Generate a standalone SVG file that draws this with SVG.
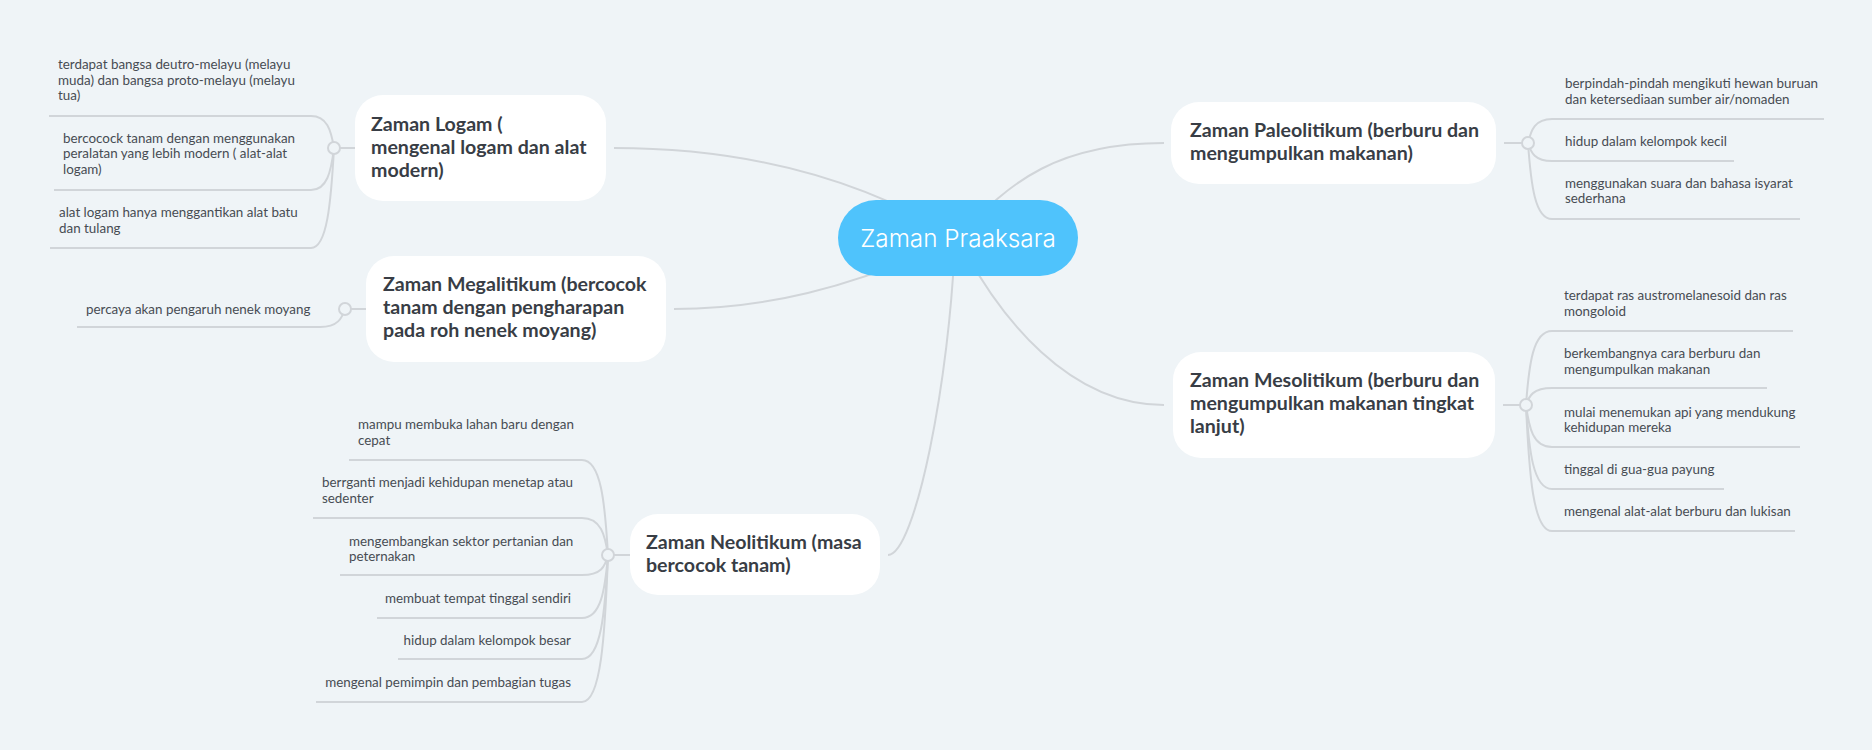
<svg xmlns="http://www.w3.org/2000/svg" width="1872" height="750" viewBox="0 0 1872 750">
<style>
.bg{fill:#eff4f7}
.ln{fill:none;stroke:#d1d5d9;stroke-width:2}
.jn{fill:#eff4f7;stroke:#d1d5d9;stroke-width:2}
.nd{fill:#ffffff}
.tt{font-family:Lato,"Noto Sans",sans-serif;font-weight:700;font-size:19.6px;fill:#383d45}
.ct{font-family:Lato,"Noto Sans",sans-serif;font-size:13.4px;fill:#474c53}
.root{font-family:Inter,"Noto Sans",sans-serif;font-weight:300;font-size:24.3px;fill:#ffffff}
</style>
<rect class="bg" x="0" y="0" width="1872" height="750"/>

<g id="connectors">
  <!-- main links -->
  <path class="ln" d="M614 148 C770 148 880 190 958 238"/>
  <path class="ln" d="M674 309 C760 309 850 290 958 238"/>
  <path class="ln" d="M888 555 C915 555 950 380 955 238"/>
  <path class="ln" d="M1164 143 C1060 143 1010 180 958 238"/>
  <path class="ln" d="M1164 405 C1070 405 1000 320 958 238"/>
  <!-- node-to-junction stubs -->
  <path class="ln" d="M340 148 H355"/>
  <path class="ln" d="M351 309 H366"/>
  <path class="ln" d="M614 555 H630"/>
  <path class="ln" d="M1504 143 H1522"/>
  <path class="ln" d="M1503 405 H1520"/>
  <!-- Logam children -->
  <path class="ln" d="M334 148 C331 130 327 116 311 116 H49"/>
  <path class="ln" d="M334 148 C331 172 327 190 311 190 H54"/>
  <path class="ln" d="M334 148 C331 203 327 248 311 248 H50"/>
  <!-- Megalitikum child -->
  <path class="ln" d="M345 309 C342 318 338 327 320 327 H77"/>
  <!-- Neolitikum children -->
  <path class="ln" d="M608 555 C605 503 601 460 582 460 H349"/>
  <path class="ln" d="M608 555 C605 535 601 518 582 518 H313"/>
  <path class="ln" d="M608 555 C605 567 601 575 582 575 H340"/>
  <path class="ln" d="M608 555 C605 590 601 618 582 618 H377"/>
  <path class="ln" d="M608 555 C605 613 601 659 582 659 H398"/>
  <path class="ln" d="M608 555 C605 636 601 702 582 702 H316"/>
  <!-- Paleolitikum children -->
  <path class="ln" d="M1528 143 C1531 130 1535 119 1552 119 H1824"/>
  <path class="ln" d="M1528 143 C1531 153 1535 161 1552 161 H1734"/>
  <path class="ln" d="M1528 143 C1531 185 1535 219 1552 219 H1800"/>
  <!-- Mesolitikum children -->
  <path class="ln" d="M1526 405 C1529 364 1533 331 1552 331 H1793"/>
  <path class="ln" d="M1526 405 C1529 396 1533 388 1552 388 H1767"/>
  <path class="ln" d="M1526 405 C1529 428 1533 447 1552 447 H1800"/>
  <path class="ln" d="M1526 405 C1529 450 1533 489 1552 489 H1724"/>
  <path class="ln" d="M1526 405 C1529 473 1533 531 1552 531 H1795"/>
  <!-- junction circles -->
  <circle class="jn" cx="334" cy="148" r="6"/>
  <circle class="jn" cx="345" cy="309" r="6"/>
  <circle class="jn" cx="608" cy="555" r="6"/>
  <circle class="jn" cx="1528" cy="143" r="6"/>
  <circle class="jn" cx="1526" cy="405" r="6"/>
</g>

<g id="root">
  <rect x="838" y="200" width="240" height="76" rx="38" fill="#4fc3fc"/>
  <text class="root" x="958" y="247" text-anchor="middle">Zaman Praaksara</text>
</g>

<g id="logam">
  <rect class="nd" x="355" y="95" width="251" height="106" rx="28"/>
  <text class="tt" x="371" y="131">Zaman Logam (</text>
  <text class="tt" x="371" y="154">mengenal logam dan alat</text>
  <text class="tt" x="371" y="177">modern)</text>
</g>
<g id="logam-1">
  <text class="ct" x="58" y="69">terdapat bangsa deutro-melayu (melayu</text>
  <text class="ct" x="58" y="85">muda) dan bangsa proto-melayu (melayu</text>
  <text class="ct" x="58" y="100">tua)</text>
</g>
<g id="logam-2">
  <text class="ct" x="63" y="143">bercocock tanam dengan menggunakan</text>
  <text class="ct" x="63" y="158">peralatan yang lebih modern ( alat-alat</text>
  <text class="ct" x="63" y="174">logam)</text>
</g>
<g id="logam-3">
  <text class="ct" x="59" y="217">alat logam hanya menggantikan alat batu</text>
  <text class="ct" x="59" y="233">dan tulang</text>
</g>

<g id="megalitikum">
  <rect class="nd" x="366" y="256" width="300" height="106" rx="28"/>
  <text class="tt" x="383" y="291">Zaman Megalitikum (bercocok</text>
  <text class="tt" x="383" y="314">tanam dengan pengharapan</text>
  <text class="tt" x="383" y="337">pada roh nenek moyang)</text>
</g>
<g id="megalitikum-1">
  <text class="ct" x="86" y="314">percaya akan pengaruh nenek moyang</text>
</g>

<g id="neolitikum">
  <rect class="nd" x="630" y="514" width="250" height="81" rx="28"/>
  <text class="tt" x="646" y="549">Zaman Neolitikum (masa</text>
  <text class="tt" x="646" y="572">bercocok tanam)</text>
</g>
<g id="neolitikum-1">
  <text class="ct" x="358" y="429">mampu membuka lahan baru dengan</text>
  <text class="ct" x="358" y="445">cepat</text>
</g>
<g id="neolitikum-2">
  <text class="ct" x="322" y="487">berrganti menjadi kehidupan menetap atau</text>
  <text class="ct" x="322" y="503">sedenter</text>
</g>
<g id="neolitikum-3">
  <text class="ct" x="349" y="546">mengembangkan sektor pertanian dan</text>
  <text class="ct" x="349" y="561">peternakan</text>
</g>
<g id="neolitikum-4">
  <text class="ct" x="571" y="603" text-anchor="end">membuat tempat tinggal sendiri</text>
</g>
<g id="neolitikum-5">
  <text class="ct" x="571" y="645" text-anchor="end">hidup dalam kelompok besar</text>
</g>
<g id="neolitikum-6">
  <text class="ct" x="571" y="687" text-anchor="end">mengenal pemimpin dan pembagian tugas</text>
</g>

<g id="paleolitikum">
  <rect class="nd" x="1171" y="102" width="325" height="82" rx="28"/>
  <text class="tt" x="1190" y="137">Zaman Paleolitikum (berburu dan</text>
  <text class="tt" x="1190" y="160">mengumpulkan makanan)</text>
</g>
<g id="paleolitikum-1">
  <text class="ct" x="1565" y="88">berpindah-pindah mengikuti hewan buruan</text>
  <text class="ct" x="1565" y="104">dan ketersediaan sumber air/nomaden</text>
</g>
<g id="paleolitikum-2">
  <text class="ct" x="1565" y="146">hidup dalam kelompok kecil</text>
</g>
<g id="paleolitikum-3">
  <text class="ct" x="1565" y="188">menggunakan suara dan bahasa isyarat</text>
  <text class="ct" x="1565" y="203">sederhana</text>
</g>

<g id="mesolitikum">
  <rect class="nd" x="1173" y="352" width="322" height="106" rx="28"/>
  <text class="tt" x="1190" y="387">Zaman Mesolitikum (berburu dan</text>
  <text class="tt" x="1190" y="410">mengumpulkan makanan tingkat</text>
  <text class="tt" x="1190" y="433">lanjut)</text>
</g>
<g id="mesolitikum-1">
  <text class="ct" x="1564" y="300">terdapat ras austromelanesoid dan ras</text>
  <text class="ct" x="1564" y="316">mongoloid</text>
</g>
<g id="mesolitikum-2">
  <text class="ct" x="1564" y="358">berkembangnya cara berburu dan</text>
  <text class="ct" x="1564" y="374">mengumpulkan makanan</text>
</g>
<g id="mesolitikum-3">
  <text class="ct" x="1564" y="417">mulai menemukan api yang mendukung</text>
  <text class="ct" x="1564" y="432">kehidupan mereka</text>
</g>
<g id="mesolitikum-4">
  <text class="ct" x="1564" y="474">tinggal di gua-gua payung</text>
</g>
<g id="mesolitikum-5">
  <text class="ct" x="1564" y="516">mengenal alat-alat berburu dan lukisan</text>
</g>
</svg>
